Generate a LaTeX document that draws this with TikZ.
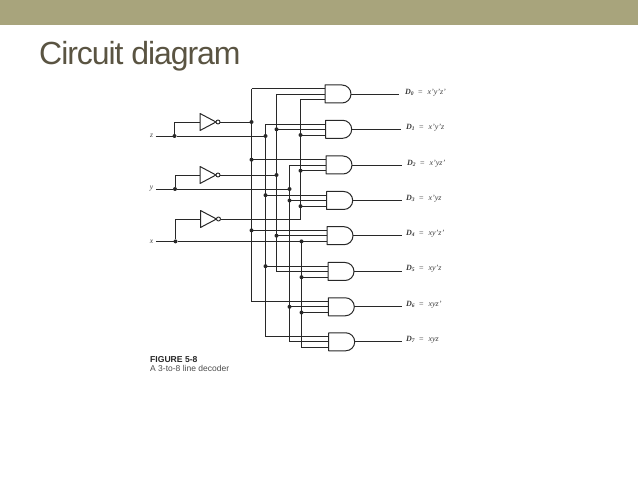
\documentclass[tikz,border=0pt]{standalone}
\usepackage{fontspec}
\setmainfont{Liberation Serif}
\setsansfont{Liberation Sans}
\newfontfamily\titlefont[LetterSpace=-3.3]{Liberation Sans}
\usetikzlibrary{calc}
\definecolor{band}{RGB}{168,164,124}
\definecolor{titlecol}{RGB}{90,84,66}
\definecolor{ink}{RGB}{40,40,40}
\definecolor{labelink}{RGB}{60,60,60}
\tikzset{
  wire/.style={draw=ink,line width=0.95pt},
  gateline/.style={draw=ink,line width=1pt,line join=round},
  gatebox/.style={rectangle,minimum width=26pt,minimum height=18pt,inner sep=0pt,outer sep=0pt},
  invbox/.style={rectangle,minimum width=16pt,minimum height=17pt,inner sep=0pt,outer sep=0pt},
  bubble/.style={circle,draw=ink,line width=0.9pt,fill=white,minimum size=4pt,inner sep=0pt,outer sep=0pt},
  dot/.style={circle,fill=ink,minimum size=4pt,inner sep=0pt,outer sep=0pt},
  inlabel/.style={text=labelink,font=\itshape\fontsize{7.5}{8}\selectfont,inner ysep=0pt,inner xsep=2.5pt},
  outlabel/.style={text=labelink,font=\itshape\fontsize{8}{9}\selectfont,inner sep=0pt,anchor=west}
}
\newcommand{\dlab}[2]{\textbf{D}\raisebox{-1.2pt}{\fontsize{5.5}{6}\selectfont\textbf{#1}}\hspace{4pt}=\hspace{4.5pt}#2}
\begin{document}
\begin{tikzpicture}[x=1pt,y=-1pt]
\useasboundingbox (0,0) rectangle (638,478);
\fill[band] (0,0) rectangle (638,25);
\node[anchor=base west,inner sep=0pt,text=titlecol,font=\titlefont\fontsize{32}{36}\selectfont] (title) at (39,65) {Circuit diagram};

% bus columns
\coordinate (vzb) at (251.5,0);
\coordinate (vz) at (265.5,0);
\coordinate (vyb) at (276.5,0);
\coordinate (vy) at (289.5,0);
\coordinate (vxb) at (300.5,0);
\coordinate (vx) at (301.5,0);

% AND gates
\foreach \n/\x/\y/\e in {0/325/94/399,1/325.7/129.3/400.7,2/326/165/401.7,3/326.7/200.5/401.7,4/327/235.7/401.7,5/328/271.5/401.7,6/328.3/306.8/402,7/328.7/341.8/402}{
  \node[gatebox] (g\n) at (\x+13,\y) {};
  \coordinate (g\n-a) at (\x,\y-5.3);
  \coordinate (g\n-b) at (\x,\y);
  \coordinate (g\n-c) at (\x,\y+5.7);
  \coordinate (o\n) at (\e,\y);
  \draw[gateline] (\x+17,\y-9) -- (\x,\y-9) -- (\x,\y+9) -- (\x+17,\y+9)
     .. controls (\x+22,\y+9) and (\x+26,\y+5) .. (\x+26,\y)
     .. controls (\x+26,\y-5) and (\x+22,\y-9) .. (\x+17,\y-9);
  \draw[wire] (g\n.east) -- (o\n);
}

% output labels
\node[outlabel] (d0) at (405,93) {\dlab{0}{x'y'z'}};
\node[outlabel] (d1) at (406,128) {\dlab{1}{x'y'z}};
\node[outlabel] (d2) at (407,163.5) {\dlab{2}{x'yz'}};
\node[outlabel] (d3) at (406,198.5) {\dlab{3}{x'yz}};
\node[outlabel] (d4) at (406,234) {\dlab{4}{xy'z'}};
\node[outlabel] (d5) at (406,269) {\dlab{5}{xy'z}};
\node[outlabel] (d6) at (406,305) {\dlab{6}{xyz'}};
\node[outlabel] (d7) at (406,339.5) {\dlab{7}{xyz}};

% inputs
\node[inlabel] (lz) at (151.5,136) {z};
\node[inlabel] (ly) at (151.5,189) {y};
\node[inlabel] (lx) at (151.5,241.4) {x};

% junctions on the inputs
\node[dot] (jz) at (174.5,136) {};
\node[dot] (jy) at (175,189) {};
\node[dot] (jx) at (175.5,241.4) {};

% inverters
\foreach \n/\x/\y in {z/200/122,y/200/175,x/200.5/219}{
  \node[invbox] (i\n) at (\x+8,\y) {};
  \draw[gateline] (i\n.north west) -- (i\n.east) -- (i\n.south west) -- cycle;
  \node[bubble,anchor=west] (b\n) at (i\n.east) {};
}

% nets: z' (goes to D0 D2 D4 D6)
\draw[wire] (jz) |- (iz.west);
\draw[wire] (bz.east) -- (bz.east -| vzb);
\draw[wire] (vzb |- g0-a) -- (g0-a);
\draw[wire] (vzb |- g0-a) -- (vzb |- g6-a) -- (g6-a);
\draw[wire] (vzb |- g2-a) -- (g2-a);
\draw[wire] (vzb |- g4-a) -- (g4-a);
% y' (D0 D1 D4 D5)
\draw[wire] (jy) |- (iy.west);
\draw[wire] (by.east) -- (by.east -| vyb);
\draw[wire] (vyb |- g0-b) -- (g0-b);
\draw[wire] (vyb |- g0-b) -- (vyb |- g5-b) -- (g5-b);
\draw[wire] (vyb |- g1-b) -- (g1-b);
\draw[wire] (vyb |- g4-b) -- (g4-b);
% x' (D0 D1 D2 D3)
\draw[wire] (jx) |- (ix.west);
\draw[wire] (bx.east) -- (bx.east -| vxb) -- (vxb |- g0-c) -- (g0-c);
\draw[wire] (vxb |- g1-c) -- (g1-c);
\draw[wire] (vxb |- g2-c) -- (g2-c);
\draw[wire] (vxb |- g3-c) -- (g3-c);
% z (D1 D3 D5 D7)
\draw[wire] (lz.east) -- (jz) -- (jz -| vz);
\draw[wire] (g1-a) -- (vz |- g1-a) -- (vz |- g7-a) -- (g7-a);
\draw[wire] (vz |- g3-a) -- (g3-a);
\draw[wire] (vz |- g5-a) -- (g5-a);
% y (D2 D3 D6 D7)
\draw[wire] (ly.east) -- (jy) -- (jy -| vy);
\draw[wire] (g2-b) -- (vy |- g2-b) -- (vy |- g7-b) -- (g7-b);
\draw[wire] (vy |- g3-b) -- (g3-b);
\draw[wire] (vy |- g6-b) -- (g6-b);
% x (D4 D5 D6 D7)
\draw[wire] (lx.east) -- (jx) -- (g4-c);
\draw[wire] (vx |- g4-c) -- (vx |- g7-c) -- (g7-c);
\draw[wire] (vx |- g5-c) -- (g5-c);
\draw[wire] (vx |- g6-c) -- (g6-c);

% junction dots
\foreach \c/\g in {vzb/bz.east,vyb/by.east,vz/jz,vy/jy,vyb/g1-b,vxb/g1-c,vzb/g2-a,vxb/g2-c,vz/g3-a,vy/g3-b,vxb/g3-c,vzb/g4-a,vyb/g4-b,vx/g4-c,vz/g5-a,vx/g5-c,vy/g6-b,vx/g6-c}{
  \node[dot] at (\c |- \g) {};
}

% caption
\node[anchor=base west,inner sep=0pt,text=black!85,font=\sffamily\bfseries\fontsize{8.6}{10}\selectfont] (cap1) at (150,362.5) {FIGURE 5-8};
\node[anchor=base west,inner sep=0pt,text=black!70,font=\sffamily\fontsize{8.5}{10}\selectfont] (cap2) at (150,372) {A 3-to-8 line decoder};
\end{tikzpicture}
\end{document}
